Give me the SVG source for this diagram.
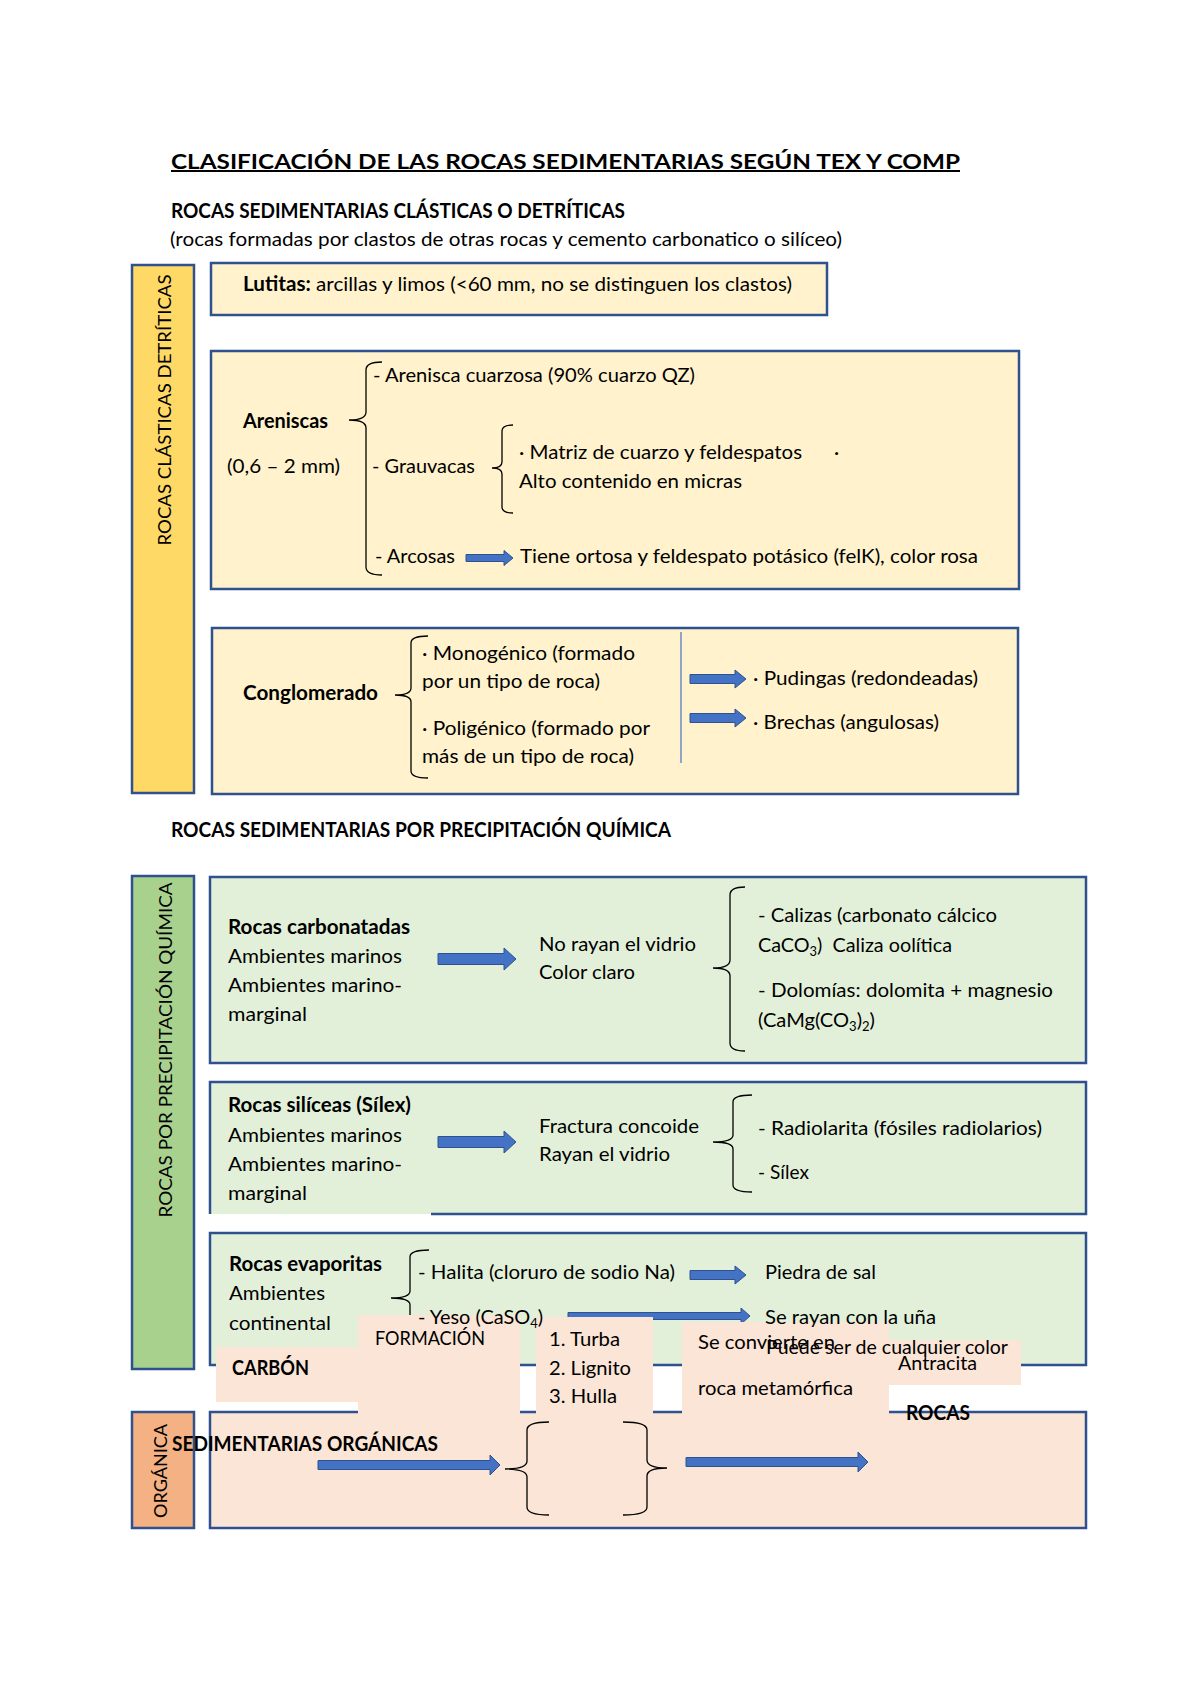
<svg xmlns="http://www.w3.org/2000/svg" width="1200" height="1698" viewBox="0 0 1200 1698">
<defs>
<style>
.t{font-family:Lato,'Liberation Sans',sans-serif;font-size:20px;fill:#000}
.b{font-weight:bold}
.box{stroke:#2F528F;stroke-width:2.5}
.yl{fill:#FFF2CC}.gr{fill:#E2F0D9}.pk{fill:#FBE5D6}
.arrow{fill:#4472C4;stroke:#2F528F;stroke-width:1}
.brace{fill:none;stroke:#000;stroke-width:1.3}
.vt{font-family:Lato,'Liberation Sans',sans-serif;font-size:17px;fill:#000;text-anchor:middle}
</style>
</defs>
<rect width="1200" height="1698" fill="#fff"/>

<g id="headings">
<text class="t b" x="171" y="169" font-size="24" textLength="789" lengthAdjust="spacingAndGlyphs" text-decoration="underline">CLASIFICACIÓN DE LAS ROCAS SEDIMENTARIAS SEGÚN TEX Y COMP</text>
<text class="t b" x="171" y="218" textLength="454" lengthAdjust="spacingAndGlyphs">ROCAS SEDIMENTARIAS CLÁSTICAS O DETRÍTICAS</text>
<text class="t" x="170" y="246" textLength="672" lengthAdjust="spacingAndGlyphs">(rocas formadas por clastos de otras rocas y cemento carbonatico o silíceo)</text>
<text class="t b" x="171" y="837" textLength="500" lengthAdjust="spacingAndGlyphs">ROCAS SEDIMENTARIAS POR PRECIPITACIÓN QUÍMICA</text>
</g>

<g id="bar-clasticas">
<rect class="box" x="132" y="265" width="62" height="528" fill="#FFD966"/>
<text class="vt" transform="translate(171,410) rotate(-90)" textLength="271" lengthAdjust="spacingAndGlyphs">ROCAS CLÁSTICAS DETRÍTICAS</text>
</g>
<g id="bar-quimica">
<rect class="box" x="132" y="876" width="62" height="493" fill="#A9D18E"/>
<text class="vt" transform="translate(172,1050) rotate(-90)" textLength="335" lengthAdjust="spacingAndGlyphs">ROCAS POR PRECIPITACIÓN QUÍMICA</text>
</g>
<g id="bar-organica">
<rect class="box" x="132" y="1412" width="62" height="116" fill="#F4B183"/>
<text class="vt" transform="translate(167,1471) rotate(-90)" textLength="94" lengthAdjust="spacingAndGlyphs">ORGÁNICA</text>
</g>

<g id="lutitas">
<rect class="box yl" x="211" y="263" width="616" height="52"/>
<text class="t" x="243" y="291" textLength="549" lengthAdjust="spacingAndGlyphs"><tspan class="b">Lutitas:</tspan> arcillas y limos (&lt;60 mm, no se distinguen los clastos)</text>
</g>

<g id="areniscas">
<rect class="box yl" x="211" y="351" width="808" height="238"/>
<text class="t b" x="243" y="428" textLength="85" lengthAdjust="spacingAndGlyphs">Areniscas</text>
<text class="t" x="227" y="473" textLength="113" lengthAdjust="spacingAndGlyphs">(0,6 – 2 mm)</text>
<text class="t" x="373" y="382" textLength="322" lengthAdjust="spacingAndGlyphs">- Arenisca cuarzosa (90% cuarzo QZ)</text>
<text class="t" x="372" y="473" textLength="103" lengthAdjust="spacingAndGlyphs">- Grauvacas</text>
<text class="t" x="519" y="459" textLength="283" lengthAdjust="spacingAndGlyphs">· Matriz de cuarzo y feldespatos</text>
<text class="t" x="834" y="459">·</text>
<text class="t" x="519" y="488" textLength="223" lengthAdjust="spacingAndGlyphs">Alto contenido en micras</text>
<text class="t" x="375" y="563" textLength="80" lengthAdjust="spacingAndGlyphs">- Arcosas</text>
<text class="t" x="520" y="563" textLength="458" lengthAdjust="spacingAndGlyphs">Tiene ortosa y feldespato potásico (felK), color rosa</text>
</g>

<g id="conglomerado">
<rect class="box yl" x="212" y="628" width="806" height="166"/>
<text class="t b" x="243" y="700" textLength="135" lengthAdjust="spacingAndGlyphs">Conglomerado</text>
<text class="t" x="422" y="660" textLength="213" lengthAdjust="spacingAndGlyphs">· Monogénico (formado</text>
<text class="t" x="422" y="688" textLength="178" lengthAdjust="spacingAndGlyphs">por un tipo de roca)</text>
<text class="t" x="422" y="735" textLength="228" lengthAdjust="spacingAndGlyphs">· Poligénico (formado por</text>
<text class="t" x="422" y="763" textLength="212" lengthAdjust="spacingAndGlyphs">más de un tipo de roca)</text>
<line x1="681" y1="632" x2="681" y2="763" stroke="#4472C4" stroke-width="1.2"/>
<text class="t" x="753" y="685" textLength="225" lengthAdjust="spacingAndGlyphs">· Pudingas (redondeadas)</text>
<text class="t" x="753" y="729" textLength="186" lengthAdjust="spacingAndGlyphs">· Brechas (angulosas)</text>
</g>

<g id="carbonatadas">
<rect class="box gr" x="210" y="877" width="876" height="186"/>
<text class="t b" x="228" y="934" textLength="182" lengthAdjust="spacingAndGlyphs">Rocas carbonatadas</text>
<text class="t" x="228" y="963" textLength="174" lengthAdjust="spacingAndGlyphs">Ambientes marinos</text>
<text class="t" x="228" y="992" textLength="174" lengthAdjust="spacingAndGlyphs">Ambientes marino-</text>
<text class="t" x="228" y="1021" textLength="79" lengthAdjust="spacingAndGlyphs">marginal</text>
<text class="t" x="539" y="951" textLength="157" lengthAdjust="spacingAndGlyphs">No rayan el vidrio</text>
<text class="t" x="539" y="979" textLength="96" lengthAdjust="spacingAndGlyphs">Color claro</text>
<text class="t" x="758" y="922" textLength="239" lengthAdjust="spacingAndGlyphs">- Calizas (carbonato cálcico</text>
<text class="t" x="758" y="952" textLength="194" lengthAdjust="spacingAndGlyphs" xml:space="preserve">CaCO<tspan font-size="13" dy="4">3</tspan><tspan dy="-4">)  Caliza oolítica</tspan></text>
<text class="t" x="758" y="997" textLength="295" lengthAdjust="spacingAndGlyphs">- Dolomías: dolomita + magnesio</text>
<text class="t" x="758" y="1027" textLength="117" lengthAdjust="spacingAndGlyphs">(CaMg(CO<tspan font-size="13" dy="4">3</tspan><tspan dy="-4">)</tspan><tspan font-size="13" dy="4">2</tspan><tspan dy="-4">)</tspan></text>
</g>

<g id="siliceas">
<rect class="gr" x="210" y="1082" width="876" height="132"/>
<path class="box" fill="none" d="M431 1214 L1086 1214 L1086 1082 L210 1082 L210 1214"/>
<text class="t b" x="228" y="1112" textLength="183" lengthAdjust="spacingAndGlyphs">Rocas silíceas (Sílex)</text>
<text class="t" x="228" y="1142" textLength="174" lengthAdjust="spacingAndGlyphs">Ambientes marinos</text>
<text class="t" x="228" y="1171" textLength="174" lengthAdjust="spacingAndGlyphs">Ambientes marino-</text>
<text class="t" x="228" y="1200" textLength="79" lengthAdjust="spacingAndGlyphs">marginal</text>
<text class="t" x="539" y="1133" textLength="160" lengthAdjust="spacingAndGlyphs">Fractura concoide</text>
<text class="t" x="539" y="1161" textLength="131" lengthAdjust="spacingAndGlyphs">Rayan el vidrio</text>
<text class="t" x="758" y="1135" textLength="284" lengthAdjust="spacingAndGlyphs">- Radiolarita (fósiles radiolarios)</text>
<text class="t" x="758" y="1179" textLength="51" lengthAdjust="spacingAndGlyphs">- Sílex</text>
</g>

<g id="evaporitas-box">
<rect class="box gr" x="210" y="1233" width="876" height="132"/>
</g>

<g id="organica-box">
<rect class="box pk" x="210" y="1412" width="876" height="116"/>
</g>

<g id="connectors">
<path class="brace" d="M382 362 Q366 362 366 370 L366 412 Q366 420 349 420 Q366 420 366 428 L366 567 Q366 575 382 575"/>
<path class="brace" d="M513 425 Q502 425 502 431 L502 462 Q502 468 492 468 Q502 468 502 474 L502 507 Q502 513 513 513"/>
<path class="arrow" d="M466 554.5 L504 554.5 L504 550.5 L513 558 L504 565.5 L504 561.5 L466 561.5 Z"/>
<path class="brace" d="M428 636 Q411 636 411 643 L411 688 Q411 695 395 695 Q411 695 411 702 L411 771 Q411 778 428 778"/>
<path class="arrow" d="M690 674.5 L735 674.5 L735 670 L746 679 L735 688 L735 683.5 L690 683.5 Z"/>
<path class="arrow" d="M690 713.5 L735 713.5 L735 709 L746 718 L735 727 L735 722.5 L690 722.5 Z"/>
<path class="arrow" d="M438 953.5 L504 953.5 L504 948 L516 959 L504 970 L504 964.5 L438 964.5 Z"/>
<path class="brace" d="M745 887 Q730 887 730 895 L730 960 Q730 968 713 968 Q730 968 730 976 L730 1043 Q730 1051 745 1051"/>
<path class="arrow" d="M438 1136.5 L504 1136.5 L504 1131 L516 1142 L504 1153 L504 1147.5 L438 1147.5 Z"/>
<path class="brace" d="M752 1095 Q733 1095 733 1102 L733 1135 Q733 1142 713 1142 Q733 1142 733 1149 L733 1185 Q733 1192 752 1192"/>
<path class="brace" d="M429 1250 Q410 1250 410 1257 L410 1291 Q410 1298 391 1298 Q410 1298 410 1305 L410 1333 Q410 1340 429 1340"/>
<path class="arrow" d="M690 1270.5 L735 1270.5 L735 1266 L746 1275 L735 1284 L735 1279.5 L690 1279.5 Z"/>
<path class="arrow" d="M568 1312.5 L741 1312.5 L741 1308 L750 1316 L741 1324 L741 1319.5 L568 1319.5 Z"/>
<path class="arrow" d="M318 1460.5 L490 1460.5 L490 1455 L500 1465 L490 1475 L490 1469.5 L318 1469.5 Z"/>
<path class="brace" d="M549 1422 Q527 1422 527 1430 L527 1461 Q527 1469 505 1469 Q527 1469 527 1477 L527 1507 Q527 1515 549 1515"/>
<path class="brace" d="M623 1422 Q647 1422 647 1430 L647 1460 Q647 1468 667 1468 Q647 1468 647 1476 L647 1507 Q647 1515 623 1515"/>
<path class="arrow" d="M686 1457.5 L858 1457.5 L858 1452 L868 1462 L858 1472 L858 1466.5 L686 1466.5 Z"/>
</g>

<g id="carbon">
<rect class="pk" x="216" y="1347" width="142" height="55"/>
<text class="t b" x="232" y="1375" textLength="77" lengthAdjust="spacingAndGlyphs">CARBÓN</text>
</g>
<g id="formacion">
<rect class="pk" x="358" y="1315" width="162" height="99"/>
<text class="t" x="375" y="1345" textLength="110" lengthAdjust="spacingAndGlyphs">FORMACIÓN</text>
</g>
<g id="tipos-carbon">
<rect class="pk" x="536" y="1317" width="117" height="97"/>
<text class="t" x="549" y="1346" textLength="71" lengthAdjust="spacingAndGlyphs">1. Turba</text>
<text class="t" x="549" y="1375" textLength="82" lengthAdjust="spacingAndGlyphs">2. Lignito</text>
<text class="t" x="549" y="1403" textLength="68" lengthAdjust="spacingAndGlyphs">3. Hulla</text>
</g>
<g id="se-convierte">
<rect class="pk" x="682" y="1322" width="207" height="92"/>
<text class="t" x="698" y="1349" textLength="137" lengthAdjust="spacingAndGlyphs">Se convierte en</text>
<text class="t" x="698" y="1395" textLength="155" lengthAdjust="spacingAndGlyphs">roca metamórfica</text>
</g>
<g id="antracita">
<rect class="pk" x="889" y="1340" width="132" height="45"/>
<text class="t" x="898" y="1370" textLength="79" lengthAdjust="spacingAndGlyphs">Antracita</text>
</g>

<g id="evaporitas-text">
<text class="t b" x="229" y="1271" textLength="153" lengthAdjust="spacingAndGlyphs">Rocas evaporitas</text>
<text class="t" x="229" y="1300" textLength="96" lengthAdjust="spacingAndGlyphs">Ambientes</text>
<text class="t" x="229" y="1330" textLength="102" lengthAdjust="spacingAndGlyphs">continental</text>
<text class="t" x="418" y="1279" textLength="257" lengthAdjust="spacingAndGlyphs">- Halita (cloruro de sodio Na)</text>
<text class="t" x="765" y="1279" textLength="111" lengthAdjust="spacingAndGlyphs">Piedra de sal</text>
<text class="t" x="418" y="1324" textLength="125" lengthAdjust="spacingAndGlyphs">- Yeso (CaSO<tspan font-size="13" dy="4">4</tspan><tspan dy="-4">)</tspan></text>
<text class="t" x="765" y="1324" textLength="171" lengthAdjust="spacingAndGlyphs">Se rayan con la uña</text>
<text class="t" x="766" y="1354" textLength="242" lengthAdjust="spacingAndGlyphs">Puede ser de cualquier color</text>
</g>

<g id="organica-text">
<text class="t b" x="906" y="1420" textLength="64" lengthAdjust="spacingAndGlyphs">ROCAS</text>
<text class="t b" x="172" y="1451" textLength="266" lengthAdjust="spacingAndGlyphs">SEDIMENTARIAS ORGÁNICAS</text>
</g>
</svg>
